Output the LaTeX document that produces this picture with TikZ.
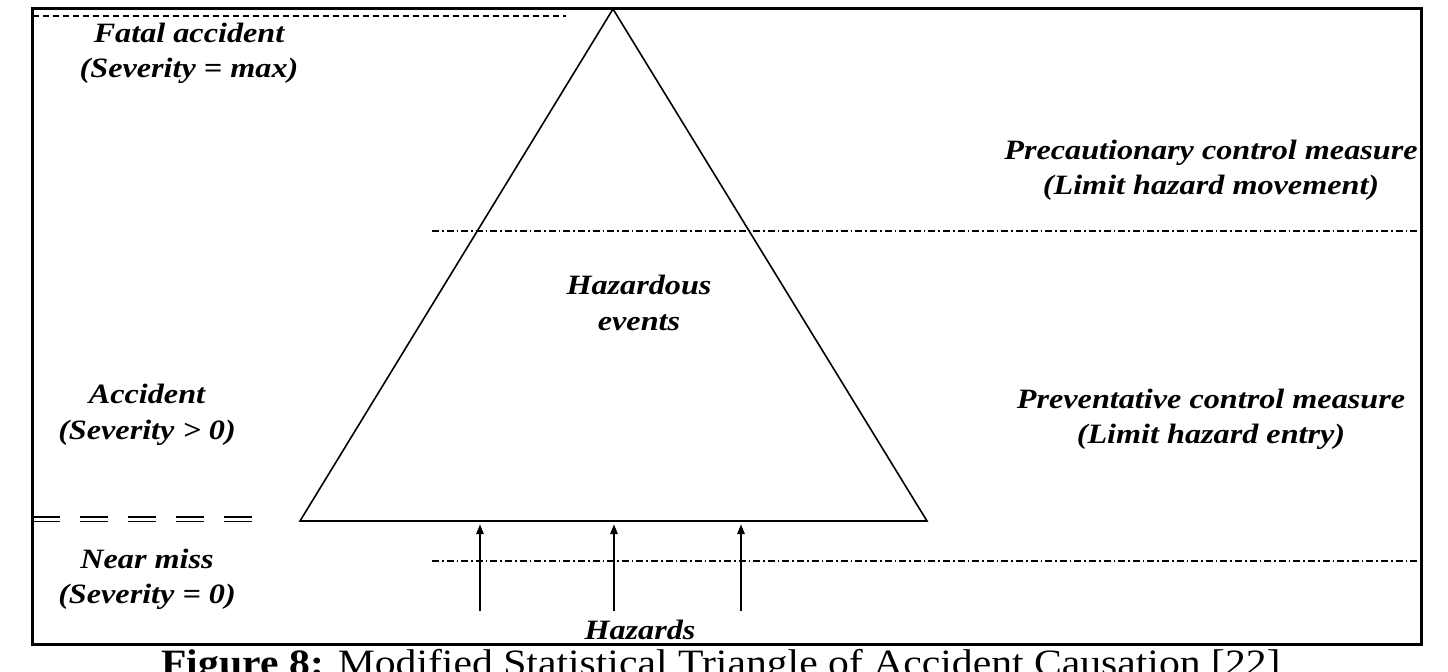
\documentclass[tikz,border=0pt]{standalone}
\usepackage{fontspec}
\setmainfont{Liberation Serif}
\newfontfamily\lblfont[FakeStretch=1.15]{Liberation Serif}
\newfontfamily\capfont[FakeStretch=1.12]{Liberation Serif}
\usetikzlibrary{arrows.meta}
\begin{document}
\begin{tikzpicture}[x=0.5pt,y=-0.5pt,
  lbl/.style={font=\lblfont\bfseries\itshape\fontsize{14pt}{16pt}\selectfont, inner sep=0pt, anchor=mid},
  frame/.style={line width=1.5pt},
  tri/.style={line width=0.8pt, line join=miter},
  dashdot/.style={line width=0.6pt, dash pattern=on 3.5pt off 1.5pt on 0.8pt off 1.5pt},
  topdash/.style={line width=0.9pt, dash pattern=on 3pt off 2pt},
  dbl/.style={line width=0.9pt, dash pattern=on 14pt off 10pt},
  hz/.style={line width=1.2pt, -{Triangle[length=5pt,width=3.5pt]}}
]
\useasboundingbox (0,0) rectangle (1448,671);
% frame
\draw[frame] (32,8) rectangle (1421,644);
% triangle
\coordinate (apex) at (613,9);
\coordinate (bl) at (300,521);
\coordinate (br) at (927,521);
\draw[tri] (apex) -- (bl) -- (br) -- cycle;
% top dashed line
\coordinate (t1) at (33,16);
\coordinate (t2) at (566,16);
\draw[topdash] (t1) -- (t2);
% double dashed line
\coordinate (d1) at (32,517);
\coordinate (d2) at (254,517);
\coordinate (d3) at (32,521.5);
\coordinate (d4) at (254,521.5);
\draw[dbl] (d1) -- (d2);
\draw[dbl] (d3) -- (d4);
% dash-dot lines
\coordinate (u1) at (432,231);
\coordinate (u2) at (1420,231);
\coordinate (l1) at (432,561);
\coordinate (l2) at (1420,561);
\draw[dashdot] (u1) -- (u2);
\draw[dashdot] (l1) -- (l2);
% hazard arrows
\coordinate (a1s) at (480,611); \coordinate (a1e) at (480,524);
\coordinate (a2s) at (614,611); \coordinate (a2e) at (614,524);
\coordinate (a3s) at (741,611); \coordinate (a3e) at (741,524);
\draw[hz] (a1s) -- (a1e);
\draw[hz] (a2s) -- (a2e);
\draw[hz] (a3s) -- (a3e);
% labels
\node[lbl] (fatal) at (189,38) {Fatal accident};
\node[lbl] (fatalsev) at (189,73) {(Severity = max)};
\node[lbl] (prec) at (1211,155) {Precautionary control measure};
\node[lbl] (precsub) at (1211,190) {(Limit hazard movement)};
\node[lbl] (hzd) at (639,290) {Hazardous};
\node[lbl] (evt) at (639,326) {events};
\node[lbl] (acc) at (147,399) {Accident};
\node[lbl] (accsev) at (147,435) {(Severity > 0)};
\node[lbl] (prev) at (1211,404) {Preventative control measure};
\node[lbl] (prevsub) at (1211,439) {(Limit hazard entry)};
\node[lbl] (near) at (147,564) {Near miss};
\node[lbl] (nearsev) at (147,599) {(Severity = 0)};
\node[lbl] (haz) at (640,635) {Hazards};
% caption
\node[font=\capfont\fontsize{18.6pt}{20pt}\selectfont, anchor=base, inner sep=0pt] (cap) at (721,675) {\textbf{Figure 8:} Modified Statistical Triangle of Accident Causation [22]};
\end{tikzpicture}
\end{document}
